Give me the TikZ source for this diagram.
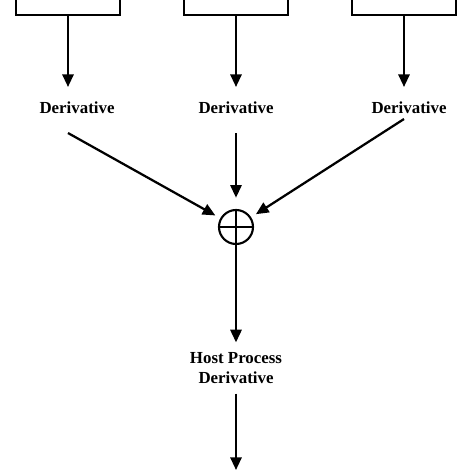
\documentclass[tikz,border=0pt]{standalone}
\usepackage{fontspec}
\setmainfont{Liberation Serif}
\usetikzlibrary{arrows.meta,positioning,calc}
\definecolor{ink}{HTML}{000000}
\tikzset{
  srcbox/.style={
    draw=ink, line width=1.6pt, minimum width=2.6cm, minimum height=1.25cm,
  },
  lbl/.style={
    font=\fontsize{12}{14.2}\selectfont\bfseries, align=center,
    inner xsep=2pt, inner ysep=10pt, text depth=4pt,
  },
  hostlbl/.style={
    lbl, inner ysep=7pt, text depth=0pt,
  },
  sumnode/.style={
    draw=ink, circle, line width=1.5pt, minimum size=0.85cm, inner sep=0pt,
  },
  arrow/.style={-{Triangle[length=9pt, width=8pt]}, line width=1.6pt, color=ink},
  line/.style={line width=1.6pt, color=ink},
}
\begin{document}
\begin{tikzpicture}[x=0.025cm, y=-0.025cm]

  \useasboundingbox (0,0) rectangle (474,474);
  \clip (0,0) rectangle (474,474);

  % sources (cut off at the top)
  \node[srcbox] (src1) at (68,-10) {};
  \node[srcbox] (src2) at (236,-10) {};
  \node[srcbox] (src3) at (404,-10) {};

  % derivatives
  \node[lbl] (der1) at (77,110) {Derivative};
  \node[lbl] (der2) at (236,110) {Derivative};
  \node[lbl] (der3) at (409,110) {Derivative};

  \node[sumnode] (sum) at (236,227) {};
  \draw[line] (sum.north) -- (sum.south);
  \draw[line] (sum.west) -- (sum.east);

  \node[hostlbl] (host) at (236,368) {Host Process\\Derivative};
  \coordinate (out) at (236,470);

  \draw[arrow] (src1.south) -- (src1.south |- der1.north);
  \draw[arrow] (src2.south) -- (src2.south |- der2.north);
  \draw[arrow] (src3.south) -- (src3.south |- der3.north);

  \draw[arrow, shorten >=4pt] (src1.south |- der1.south) -- (sum);
  \draw[arrow, shorten >=8pt] (der2.south) -- (sum);
  \draw[arrow, shorten >=4pt] ([yshift=0.35cm]src3.south |- der3.south) -- (sum);

  \draw[arrow] (sum.south) -- (host.north);
  \draw[arrow] (host.south) -- (out);

\end{tikzpicture}
\end{document}
